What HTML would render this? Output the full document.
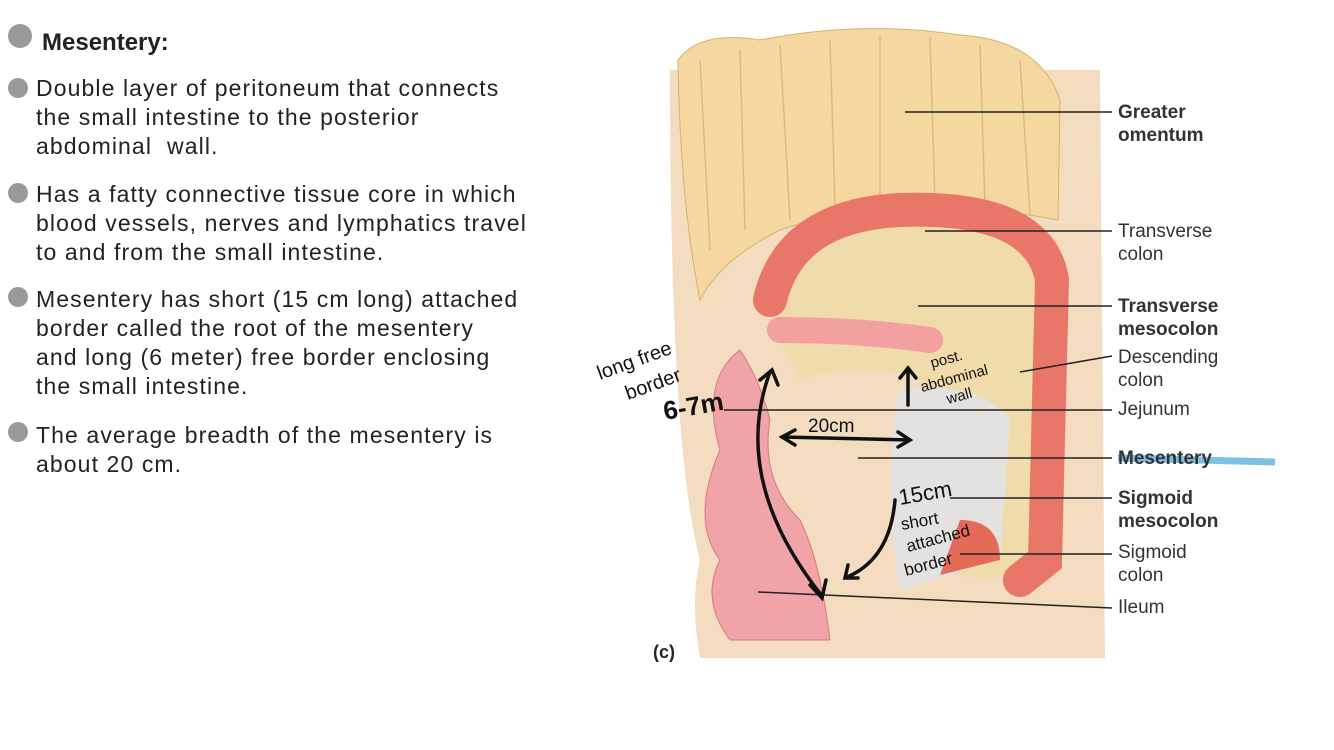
<!DOCTYPE html>
<html><head><meta charset="utf-8"><style>
body{margin:0;width:1334px;height:750px;background:#fff;overflow:hidden;position:relative;font-family:"Liberation Sans",sans-serif}
.t{position:absolute;left:36px;color:#222;font-size:23px;letter-spacing:1.1px;line-height:29px;white-space:nowrap}
.b{position:absolute;left:8px;width:20px;height:20px;border-radius:50%;background:#9a9a9a}
.lab{position:absolute;left:1118px;font-size:19px;line-height:23px;color:#333;font-weight:bold}
.hw{font-family:"Liberation Sans",sans-serif;fill:#111}
</style></head><body>
<div class="b" style="top:24px;width:24px;height:24px"></div>
<div class="t" style="top:28px;left:42px;font-size:24px;letter-spacing:0;font-weight:bold">Mesentery:</div>
<div class="b" style="top:78px"></div>
<div class="t" style="top:74px">Double layer of peritoneum that connects<br>the small intestine to the posterior<br>abdominal&nbsp; wall.</div>
<div class="b" style="top:183px"></div>
<div class="t" style="top:180px">Has a fatty connective tissue core in which<br>blood vessels, nerves and lymphatics travel<br>to and from the small intestine.</div>
<div class="b" style="top:287px"></div>
<div class="t" style="top:285px">Mesentery has short (15 cm long) attached<br>border called the root of the mesentery<br>and long (6 meter) free border enclosing<br>the small intestine.</div>
<div class="b" style="top:422px"></div>
<div class="t" style="top:421px">The average breadth of the mesentery is<br>about 20 cm.</div>

<svg style="position:absolute;left:0;top:0" width="1334" height="750">
<path d="M670 70 L1100 70 L1105 658 L700 658 Q690 600 700 560 Q670 450 670 70Z" fill="#f3dcc0"/>
<path d="M678 60 Q700 30 760 40 Q860 20 960 35 Q1040 40 1060 100 L1058 220 Q900 190 780 230 Q720 260 700 300 Q680 200 678 60Z" fill="#f4d8a0" stroke="#d9b070"/>
<g stroke="#e0b878" stroke-width="1.5" fill="none">
<path d="M700 60 L710 250"/><path d="M740 50 L745 230"/><path d="M780 45 L790 220"/><path d="M830 40 L835 205"/><path d="M880 35 L880 200"/><path d="M930 38 L935 200"/><path d="M980 45 L985 205"/><path d="M1020 60 L1030 215"/>
</g>
<path d="M760 300 Q780 220 900 215 Q1040 210 1050 300 L1040 560 L990 580 L930 570 Q900 460 920 380 Q860 360 800 380Z" fill="#f0dcaa"/>
<path d="M900 390 Q980 380 1010 420 L1000 560 L900 590 Q880 480 900 390Z" fill="#e4e2e0"/>
<path d="M770 300 Q790 215 900 210 Q1040 205 1052 280 L1045 560 L1020 580" fill="none" stroke="#e8776a" stroke-width="34" stroke-linecap="round"/>
<path d="M780 330 Q860 330 930 340" fill="none" stroke="#f2a0a0" stroke-width="26" stroke-linecap="round"/>
<path d="M960 520 Q1000 520 1000 560 L940 575Z" fill="#e56a58"/>
<path d="M740 350 Q700 380 720 450 Q690 520 720 560 Q700 600 730 640 L830 640 Q820 560 800 520 Q760 480 770 420 Q760 380 740 350Z" fill="#f0a4a8" stroke="#d87880"/>
<g stroke="#222" stroke-width="1.5">
<line x1="905" y1="112" x2="1112" y2="112"/><line x1="925" y1="231" x2="1112" y2="231"/>
<line x1="918" y1="306" x2="1112" y2="306"/><line x1="1020" y1="372" x2="1112" y2="356"/>
<line x1="724" y1="410" x2="1112" y2="410"/><line x1="858" y1="458" x2="1112" y2="458"/>
<line x1="950" y1="498" x2="1112" y2="498"/><line x1="960" y1="554" x2="1112" y2="554"/>
<line x1="758" y1="592" x2="1112" y2="608"/>
</g>
<path d="M1118 458 Q1200 460 1275 462" stroke="#7ec0e4" stroke-width="7" fill="none"/>
<g stroke="#111" stroke-width="3.5" fill="none" stroke-linecap="round">
<path d="M770 372 Q730 480 822 596"/><path d="M760 380 L772 370 L778 385"/><path d="M810 585 L822 598 L826 580"/>
<path d="M782 437 L910 440"/><path d="M795 430 L782 437 L795 445"/><path d="M898 432 L910 440 L898 447"/>
<path d="M908 405 L908 368"/><path d="M900 378 L908 368 L916 378"/>
<path d="M895 500 Q890 560 845 578"/><path d="M848 565 L845 578 L858 578"/>
</g>
<text class="hw" x="600" y="380" font-size="20" transform="rotate(-20 600 380)">long free</text>
<text class="hw" x="628" y="400" font-size="20" transform="rotate(-20 628 400)">border</text>
<text class="hw" x="665" y="420" font-size="26" font-weight="bold" transform="rotate(-10 665 420)">6-7m</text>
<text class="hw" x="808" y="432" font-size="19">20cm</text>
<text class="hw" x="932" y="368" font-size="15" transform="rotate(-15 932 368)">post.</text>
<text class="hw" x="922" y="392" font-size="15" transform="rotate(-15 922 392)">abdominal</text>
<text class="hw" x="948" y="404" font-size="15" transform="rotate(-15 948 404)">wall</text>
<text class="hw" x="900" y="505" font-size="22" transform="rotate(-10 900 505)">15cm</text>
<text class="hw" x="902" y="530" font-size="17" transform="rotate(-10 902 530)">short</text>
<text class="hw" x="908" y="552" font-size="17" transform="rotate(-15 908 552)">attached</text>
<text class="hw" x="906" y="576" font-size="17" transform="rotate(-15 906 576)">border</text>
<text x="653" y="658" font-size="18" font-weight="bold" fill="#222">(c)</text>
</svg>
<div class="lab" style="top:101px">Greater<br>omentum</div>
<div class="lab" style="top:220px;font-weight:normal">Transverse<br>colon</div>
<div class="lab" style="top:295px">Transverse<br>mesocolon</div>
<div class="lab" style="top:346px;font-weight:normal">Descending<br>colon</div>
<div class="lab" style="top:398px;font-weight:normal">Jejunum</div>
<div class="lab" style="top:447px">Mesentery</div>
<div class="lab" style="top:487px">Sigmoid<br>mesocolon</div>
<div class="lab" style="top:541px;font-weight:normal">Sigmoid<br>colon</div>
<div class="lab" style="top:596px;font-weight:normal">Ileum</div>
</body></html>
